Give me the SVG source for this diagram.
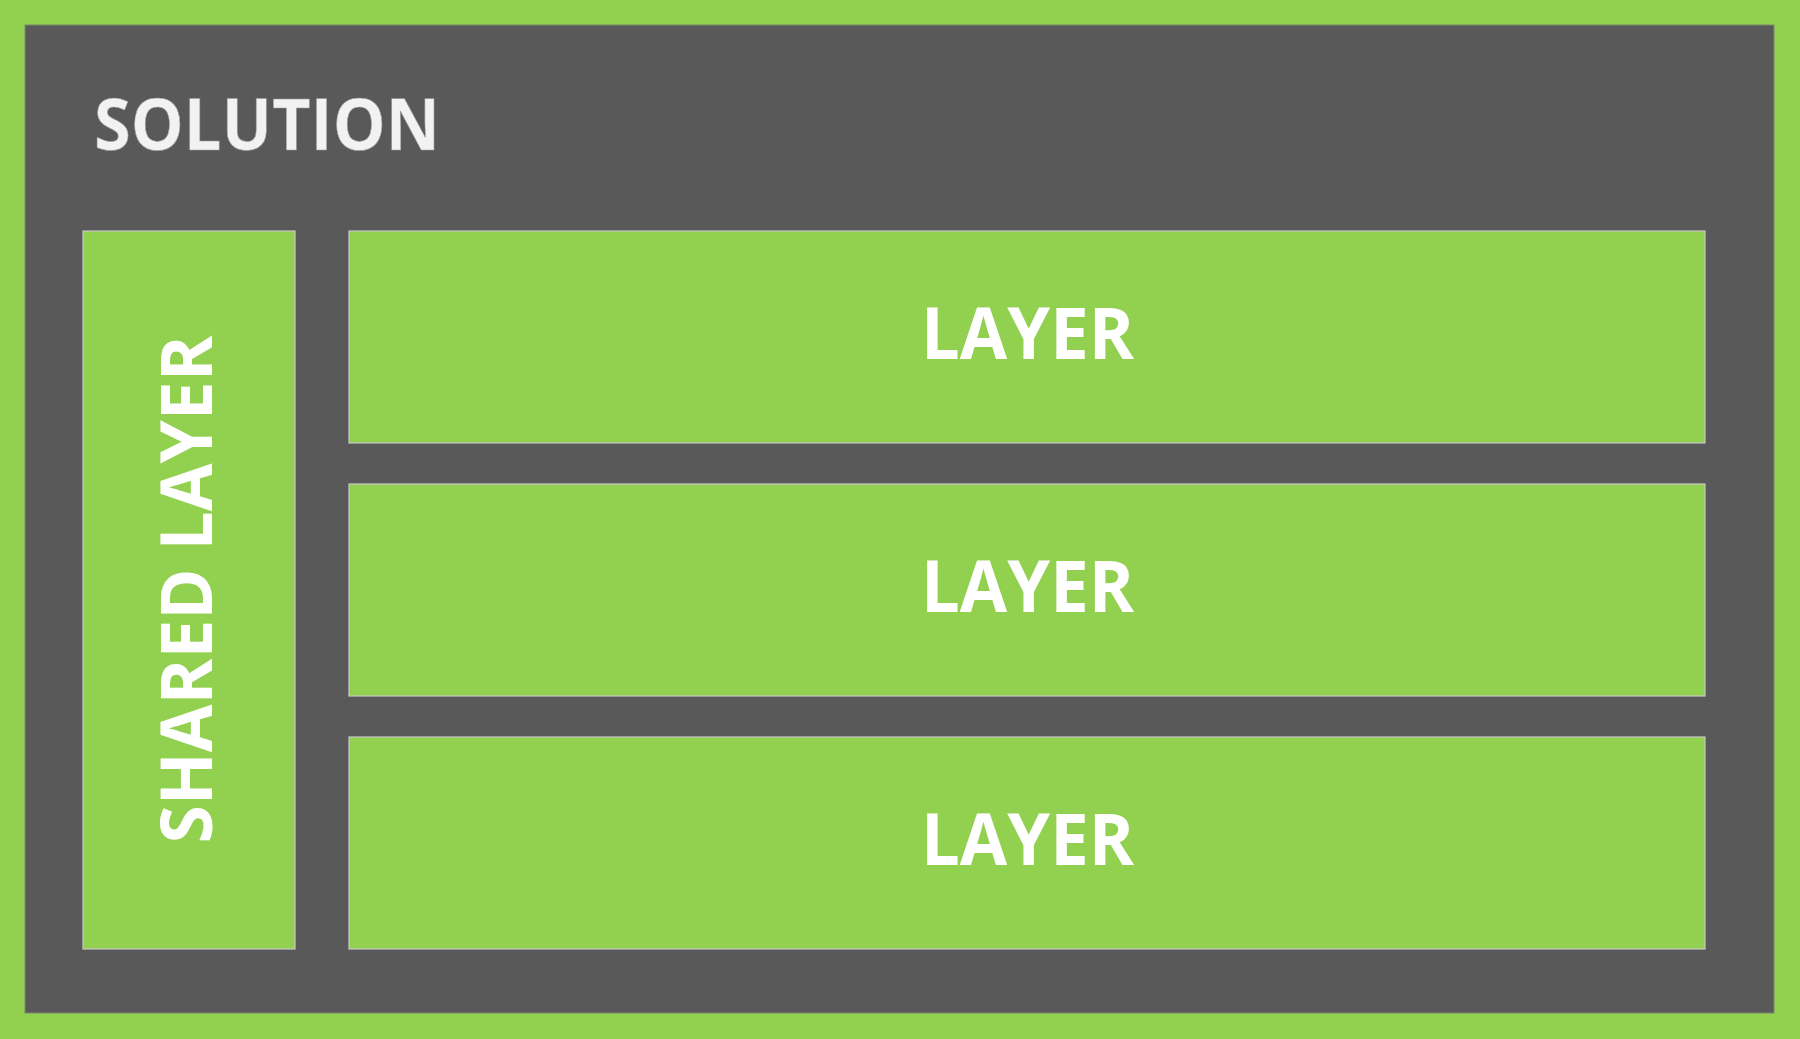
<svg xmlns="http://www.w3.org/2000/svg" width="1800" height="1039" viewBox="0 0 1800 1039">
  <style>
    .box { fill: #92d050; stroke: #c8c8c8; stroke-width: 1.2; }
    .lbl { font-family: "Open Sans", "Liberation Sans", sans-serif; font-weight: 700; font-size: 72px; fill: #ffffff; text-anchor: middle; }
    .title { font-family: "Open Sans", "Liberation Sans", sans-serif; font-weight: 700; font-size: 72px; fill: #f2f2f2; stroke: #9a9a9a; stroke-width: 0.6; }
  </style>
  <g id="solution">
    <rect x="0" y="0" width="1800" height="1039" fill="#92d050"/>
    <rect x="25" y="25" width="1749" height="988" fill="#595959" stroke="#7a8a6a" stroke-width="1"/>
    <text class="title" x="94" y="150" textLength="346" lengthAdjust="spacingAndGlyphs">SOLUTION</text>
  </g>
  <g id="shared-layer">
    <rect class="box" x="83" y="231" width="212" height="718"/>
    <text class="lbl" transform="translate(212,589.5) rotate(-90)" x="0" y="0" textLength="508" lengthAdjust="spacingAndGlyphs">SHARED LAYER</text>
  </g>
  <g id="layer-1">
    <rect class="box" x="349" y="231" width="1356" height="212"/>
    <text class="lbl" x="1027.5" y="359" textLength="213" lengthAdjust="spacingAndGlyphs">LAYER</text>
  </g>
  <g id="layer-2">
    <rect class="box" x="349" y="484" width="1356" height="212"/>
    <text class="lbl" x="1027.5" y="612" textLength="213" lengthAdjust="spacingAndGlyphs">LAYER</text>
  </g>
  <g id="layer-3">
    <rect class="box" x="349" y="737" width="1356" height="212"/>
    <text class="lbl" x="1027.5" y="865" textLength="213" lengthAdjust="spacingAndGlyphs">LAYER</text>
  </g>
  <g id="connectors"/>
</svg>
